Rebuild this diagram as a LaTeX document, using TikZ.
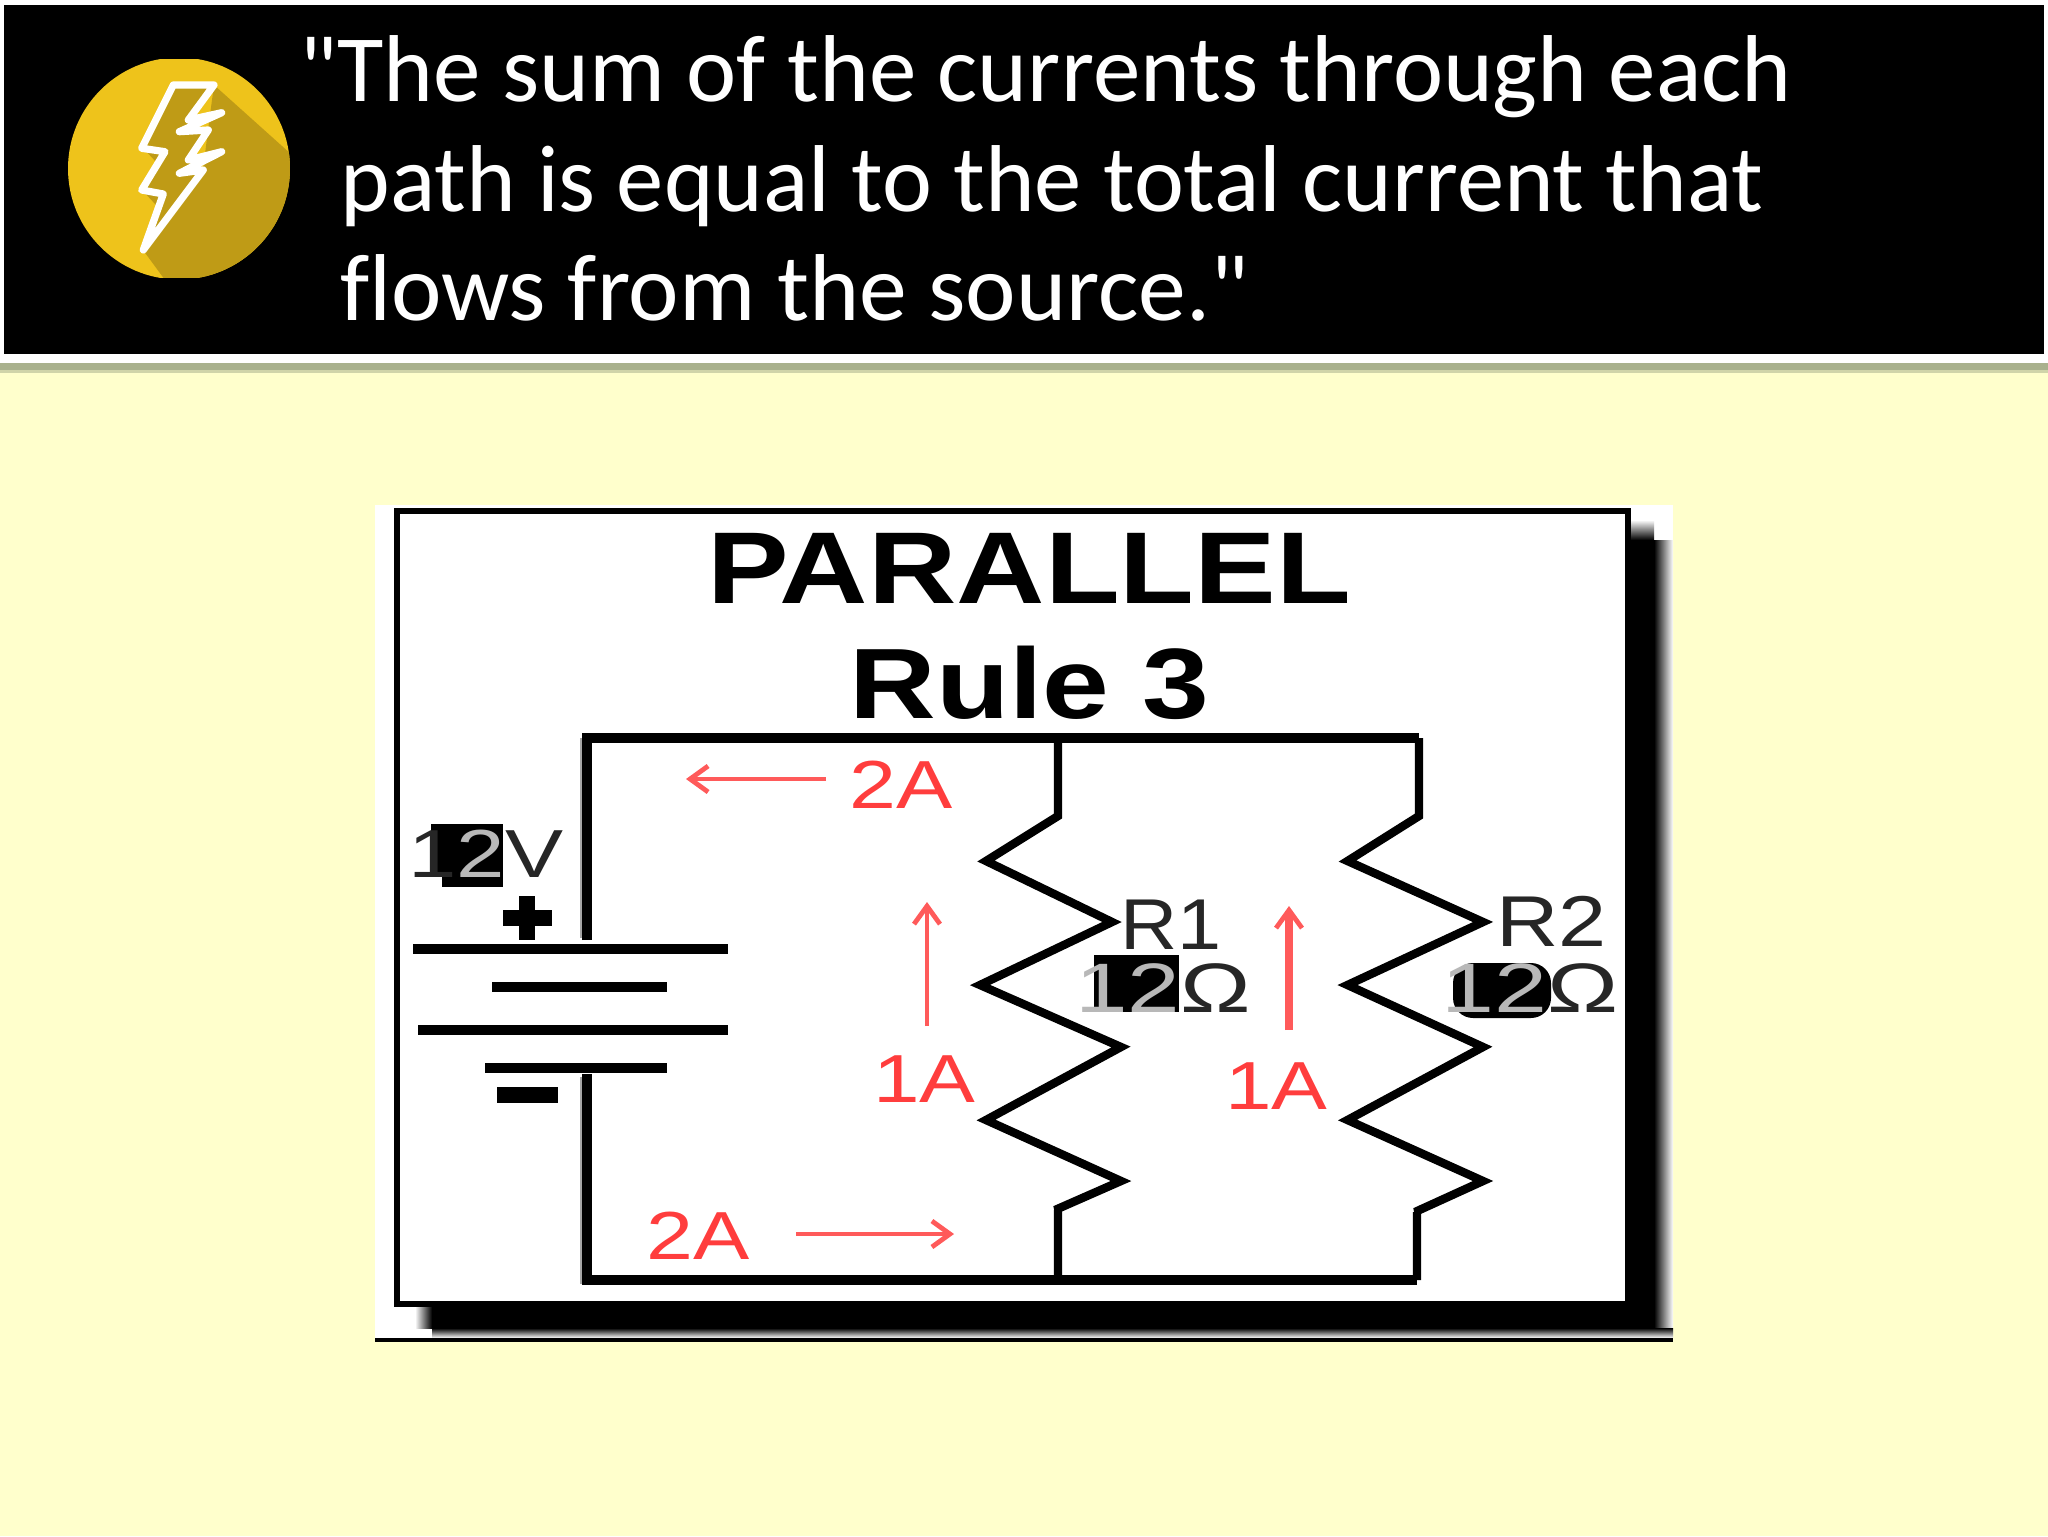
\documentclass[tikz,border=0pt]{standalone}
\usepackage{fontspec}
\usepackage{graphicx}
\usetikzlibrary{arrows.meta}
\newfontfamily\titlefont[Ligatures=NoCommon]{Carlito}
\newfontfamily\circfont{Liberation Sans}
\newcommand{\stretchx}[2]{\scalebox{#1}[1]{#2}}
\definecolor{paper}{HTML}{FFFFCC}
\definecolor{bandshadow}{HTML}{A9B18D}
\definecolor{gold}{HTML}{EEC31B}
\definecolor{golddark}{HTML}{BF9B16}
\definecolor{redtxt}{HTML}{FF3D3D}
\definecolor{redarrow}{HTML}{FF5A5A}
\definecolor{digit}{HTML}{B8B8B8}
\definecolor{digitdark}{HTML}{262626}
\tikzset{
  titletext/.style={anchor=base west,inner sep=0pt,text=white,font=\titlefont\fontsize{47.5}{47.5}\selectfont},
  circtext/.style={anchor=base west,inner sep=0pt,text=digitdark,font=\circfont\fontsize{#1}{#1}\selectfont},
  redtext/.style={anchor=base west,inner sep=0pt,text=redtxt,font=\circfont\fontsize{34}{34}\selectfont},
  headtext/.style={anchor=base west,inner sep=0pt,text=black,font=\circfont\bfseries\fontsize{#1}{#1}\selectfont},
  wire/.style={draw=black,line width=4.6pt,line cap=butt,line join=miter},
  wireedge/.style={draw=gray!70,line width=1.6pt},
  plate/.style={draw=black,line width=4.6pt},
  zig/.style={draw=black,line width=4.2pt,line join=miter,miter limit=3},
  current/.style={draw=redarrow,line width=#1,-{Straight Barb[length=9pt,width=13pt,line width=2.4pt]}},
}
\begin{document}
\begin{tikzpicture}[x=0.5pt,y=-0.5pt]
\useasboundingbox (0,0) rectangle (2048,1536);
% page and title band
\fill[paper] (0,0) rectangle (2048,1536);
\fill[bandshadow!55!paper] (0,363) rectangle (2048,373);
\fill[bandshadow] (0,363) rectangle (2048,370);
\fill[white] (0,0) rectangle (2048,363);
\fill[black] (4,5) rectangle (2044,354);
% icon
\begin{scope}
  \clip (68,60) rectangle (290,277);
  \clip (179,168.5) circle [radius=111];
  \fill[gold] (60,50) rectangle (300,290);
  \fill[golddark] (214,85) -- (292,155) -- (300,290) -- (165,280) -- (143,250) -- (163,194) -- (203,170) -- (208,130) -- cycle;
  \fill[golddark] (143,148) -- (157,163) -- (168,152) -- cycle;
  \fill[golddark] (142,190) -- (156,205) -- (166,195) -- cycle;
\end{scope}
\path[fill=golddark,draw=white,line width=3.6pt,line join=round]
  (173.3,85) -- (214,85) -- (188.3,120) -- (221.7,112.7) -- (179.3,131.7) -- (208.3,130)
  -- (188.3,160) -- (221.7,151.7) -- (179.3,173.3) -- (203.3,170) -- (143.3,250)
  -- (163.3,194) -- (141.7,190) -- (165,151.7) -- (141.7,148.3) -- cycle;
% title text
\node[titletext] (line1) at (299,102) {"The sum of the currents through each};
\node[titletext] (line2) at (340,211) {\stretchx{0.995}{path is equal to the total current that}};
\node[titletext] (line3) at (340,320) {\stretchx{1.006}{flows from the source."}};
% diagram panel
\fill[white] (375,505) rectangle (1673,1340);
\shade[left color=black,right color=white] (1654,540) rectangle (1673,1338);
\shade[top color=black,bottom color=white] (432,1328) rectangle (1673,1338);
\shade[bottom color=black,top color=white] (1628,520) rectangle (1654,540);
\shade[left color=white,right color=black] (415,1304) rectangle (432,1328);
\fill[black] (1625,540) rectangle (1654,1328);
\fill[black] (432,1304) rectangle (1654,1328);
\draw[black,line width=2.8pt] (397,511) rectangle (1628,1304);
\fill[black] (375,1338) rectangle (1673,1342);
% headings
\node[headtext=51] (parallel) at (707,603) {\stretchx{1.2}{PARALLEL}};
\node[headtext=50] (rule) at (849,718) {\stretchx{1.2}{Rule 3}};
% named points
\coordinate (tl) at (587,738);
\coordinate (tm) at (1058,738);
\coordinate (tr) at (1419,738);
\coordinate (bl) at (587,1280);
\coordinate (bm) at (1058,1280);
\coordinate (br) at (1417,1280);
\coordinate (batTop) at (587,940);
\coordinate (batBot) at (587,1074);
% wiring
\draw[wireedge] (582,738) -- (582,938);
\draw[wireedge] (582,1077) -- (582,1284);
\draw[wire] (batTop) -- (tl) -- (tr);
\draw[wire,line width=5.4pt] (batBot) -- (bl) -- (br);
\draw[wire] (tl) ++(-5,0) -- (tl);
% R1
\draw[zig] (tm) -- (1058,816) -- (986,861) -- (1112,922) -- (980,985) -- (1121,1047) -- (986,1120) -- (1121,1181) -- (1055,1210) -- (1058,1210) -- (bm);
% R2
\draw[zig] (tr) -- (1419,816) -- (1347.5,861) -- (1483,922) -- (1347.5,985) -- (1483,1047) -- (1347.5,1120) -- (1483,1181) -- (1415,1212) -- (1417,1212) -- (br);
% battery
\coordinate (p1a) at (413,949); \coordinate (p1b) at (728,949);
\coordinate (p2a) at (492,987); \coordinate (p2b) at (667,987);
\coordinate (p3a) at (418,1030); \coordinate (p3b) at (728,1030);
\coordinate (p4a) at (485,1068); \coordinate (p4b) at (667,1068);
\draw[plate] (p1a) -- (p1b);
\draw[plate] (p2a) -- (p2b);
\draw[plate] (p3a) -- (p3b);
\draw[plate] (p4a) -- (p4b);
% plus, minus
\draw[black,line width=8pt] (503,918) -- (552,918);
\draw[black,line width=8pt] (527,896) -- (527,940);
\draw[black,line width=8pt] (497,1095) -- (558,1095);
% voltage label
\fill[black] (442,824) rectangle (503,887);
\fill[black] (431,824) rectangle (442,877);
\node[circtext=34] (volt) at (408,877) {\stretchx{1.28}{1{\color{digit}2}V}};
% R1 labels
\fill[black] (1094,955) rectangle (1179,1012);
\node[circtext=36] (r1name) at (1120,949) {\stretchx{1.1}{R1}};
\node[circtext=35] (r1val) at (1075,1012) {\stretchx{1.35}{{\color{digit}12}\char"03A9}};
% R2 labels
\fill[black,rounded corners=10pt] (1453,963) rectangle (1551,1018);
\node[circtext=36] (r2name) at (1496,946) {\stretchx{1.2}{R2}};
\node[circtext=35] (r2val) at (1441,1012) {\stretchx{1.36}{{\color{digit}12}\char"03A9}};
% currents
\coordinate (a1s) at (826,779); \coordinate (a1e) at (686,779);
\coordinate (a2s) at (927,1026); \coordinate (a2e) at (927,902);
\coordinate (a3s) at (1289,1030); \coordinate (a3e) at (1289,906);
\coordinate (a4s) at (796,1234); \coordinate (a4e) at (954,1234);
\draw[current=2.4pt] (a1s) -- (a1e);
\draw[current=2.4pt] (a2s) -- (a2e);
\draw[current=3.6pt] (a3s) -- (a3e);
\draw[current=2.4pt] (a4s) -- (a4e);
\node[redtext] (i1) at (849,808) {\stretchx{1.24}{2A}};
\node[redtext] (i2) at (873,1102) {\stretchx{1.23}{1A}};
\node[redtext] (i3) at (1225,1109) {\stretchx{1.23}{1A}};
\node[redtext] (i4) at (646,1259) {\stretchx{1.24}{2A}};
\end{tikzpicture}
\end{document}
